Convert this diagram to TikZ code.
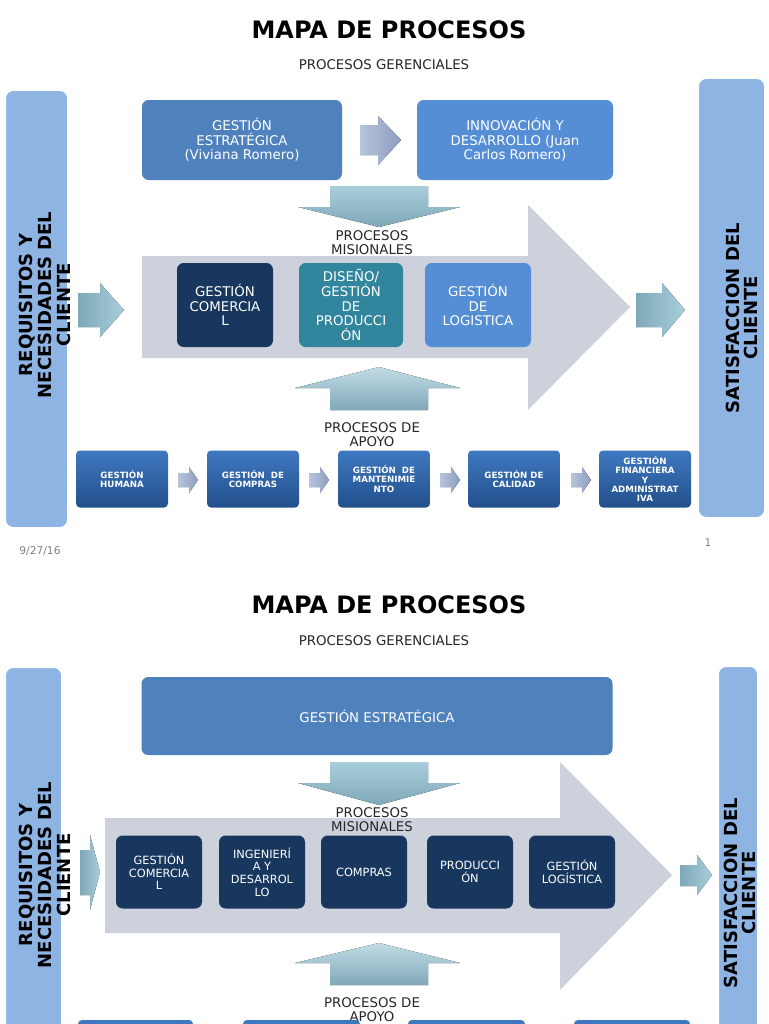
\documentclass[tikz,border=0pt]{standalone}
\usepackage{fontspec}
\setmainfont{DejaVu Sans}
\begin{document}
\begin{tikzpicture}[x=0.75pt,y=-0.75pt,
  bar/.style={fill=barc,draw=white,line width=1.5pt,rounded corners=6pt},
  bx/.style={draw=none,rounded corners=5pt,text=white,align=center,inner sep=0pt,font=\fontsize{10}{11}\selectfont},
  sb/.style={rounded corners=3pt,top color=sbt,bottom color=sbb,text=white,align=center,font=\bfseries\fontsize{6.5}{7}\selectfont},
  vt/.style={rotate=90,align=center,font=\bfseries\fontsize{13.5}{14}\selectfont},
  lab/.style={align=center,font=\fontsize{10}{10.5}\selectfont,text=black!85},
  garr/.style={top color=arrt,bottom color=arrb,draw=none},
  harr/.style={left color=arrb,right color=arrt,draw=none},
  sarr/.style={left color=sat,right color=sab,draw=none}]
\definecolor{barc}{HTML}{8EB4E3}
\definecolor{cge}{HTML}{4F81BD}
\definecolor{cid}{HTML}{558ED5}
\definecolor{dk}{HTML}{17375E}
\definecolor{tl}{HTML}{31859C}
\definecolor{big}{HTML}{CDD1DB}
\definecolor{arrt}{HTML}{A8CEDB}
\definecolor{arrb}{HTML}{7FA8B8}
\definecolor{sbt}{HTML}{3F78C0}
\definecolor{sbb}{HTML}{22508C}
\definecolor{sat}{HTML}{B7C4DC}
\definecolor{sab}{HTML}{8C9DC0}
\useasboundingbox (0,0) rectangle (768,1024);
\fill[white] (0,0) rectangle (768,1024);
% ===== slide 1 =====
\node (t1) at (389,30) {\bfseries\fontsize{18}{18}\selectfont MAPA DE PROCESOS};
\node (g1) at (384,65) [lab] {PROCESOS GERENCIALES};
\draw[bar] (5,90) rectangle (68,528);
\node (lt1) at (45,305) [vt] {REQUISITOS Y\\NECESIDADES DEL\\CLIENTE};
\draw[bar] (698,78) rectangle (765,518);
\node (rt1) at (742,318) [vt] {SATISFACCION DEL\\CLIENTE};
% big arrow
\fill[big] (142,256) -- (528,256) -- (528,205) -- (630,307) -- (528,410) -- (528,358) -- (142,358) -- cycle;
\node (ge1) [bx,fill=cge,minimum width=150pt,minimum height=60pt] at (242,140) {GESTIÓN\\ESTRATÉGICA\\(Viviana Romero)};
\node (id1) [bx,fill=cid,minimum width=147pt,minimum height=60pt] at (515,140) {INNOVACIÓN Y\\DESARROLLO (Juan\\Carlos Romero)};
\fill[sarr] (360,125) -- (378,125) -- (378,116) -- (401,140) -- (378,165) -- (378,155) -- (360,155) -- cycle;
\fill[garr] (330,186) -- (428,186) -- (428,207) -- (460,207) -- (379,227) -- (298,207) -- (330,207) -- cycle;
\node (pm1) at (372,243) [lab] {PROCESOS\\MISIONALES};
\node (gc1) [bx,fill=dk,minimum width=72pt,minimum height=63pt] at (225,305) {GESTIÓN\\COMERCIA\\L};
\node (dg1) [bx,fill=tl,minimum width=78pt,minimum height=63pt] at (351,305) {DISEÑO/\\GESTIÓN\\DE\\PRODUCCI\\ÓN};
\node (gl1) [bx,fill=cid,minimum width=79.5pt,minimum height=63pt] at (478,305) {GESTIÓN\\DE\\LOGISTICA};
\fill[harr] (78,293) -- (100,293) -- (100,283) -- (124,310) -- (100,337) -- (100,327) -- (78,327) -- cycle;
\fill[harr] (636,293) -- (662,293) -- (662,283) -- (685,310) -- (662,337) -- (662,327) -- (636,327) -- cycle;
\fill[garr,top color=arrt!70,bottom color=arrb] (379,367) -- (460,388) -- (428,388) -- (428,410) -- (330,410) -- (330,388) -- (295,388) -- cycle;
\node (pa1) at (372,435) [lab] {PROCESOS DE\\APOYO};
\foreach \x/\n/\t in {122/s1/{GESTIÓN\\HUMANA},253/s2/{GESTIÓN\ \ DE\\COMPRAS},384/s3/{GESTIÓN\ \ DE\\MANTENIMIE\\NTO},514/s4/{GESTIÓN DE\\CALIDAD},645/s5/{GESTIÓN\\FINANCIERA\\Y\\ADMINISTRAT\\IVA}}
  \node (\n) [sb,minimum width=69pt,minimum height=42.75pt,inner sep=0pt] at (\x,479) {\t};
\foreach \x in {178,309,440,571}
  \fill[sarr] (\x,473) -- (\x+11,473) -- (\x+11,467) -- (\x+20,480) -- (\x+11,493) -- (\x+11,487) -- (\x,487) -- cycle;
\node (d1) at (40,551) {\color{black!50}\fontsize{8}{8}\selectfont 9/27/16};
\node (n1) at (708,543) {\color{black!50}\fontsize{8}{8}\selectfont 1};
% ===== slide 2 =====
\node (t2) at (389,605) {\bfseries\fontsize{18}{18}\selectfont MAPA DE PROCESOS};
\node (g2) at (384,641) [lab] {PROCESOS GERENCIALES};
\draw[bar] (5,667) rectangle (62,1040);
\draw[bar] (718,666) rectangle (758,1040);
\fill[big] (105,818) -- (560,818) -- (560,762) -- (672,875) -- (560,990) -- (560,933) -- (105,933) -- cycle;
\node (lt2) at (45,875) [vt] {REQUISITOS Y\\NECESIDADES DEL\\CLIENTE};
\node (rt2) at (740,893) [vt] {SATISFACCION DEL\\CLIENTE};
\node (ge2) [bx,fill=cge,minimum width=353.25pt,minimum height=58.5pt] at (377,716) {GESTIÓN ESTRATÉGICA};
\fill[garr] (330,762) -- (428,762) -- (428,783) -- (460,783) -- (379,805) -- (298,783) -- (330,783) -- cycle;
\node (pm2) at (372,820) [lab] {PROCESOS\\MISIONALES};
\foreach \x/\n/\t in {159/c1/{GESTIÓN\\COMERCIA\\L},262/c2/{INGENIERÍ\\A Y\\DESARROL\\LO},364/c3/{COMPRAS},470/c4/{PRODUCCI\\ÓN},572/c5/{GESTIÓN\\LOGÍSTICA}}
  \node (\n) [bx,fill=dk,minimum width=64.5pt,minimum height=54.75pt,font=\fontsize{8.5}{9.5}\selectfont] at (\x,872) {\t};
\fill[harr] (80,850) -- (90,850) -- (90,835) -- (100,872) -- (90,910) -- (90,895) -- (80,895) -- cycle;
\fill[harr] (680,865) -- (697,865) -- (697,855) -- (712,875) -- (697,895) -- (697,886) -- (680,886) -- cycle;
\fill[garr,top color=arrt!70,bottom color=arrb] (379,943) -- (460,963) -- (428,963) -- (428,985) -- (330,985) -- (330,963) -- (295,963) -- cycle;
\node (pa2) at (372,1010) [lab] {PROCESOS DE\\APOYO};
\foreach \a/\b in {78/193,243/360,408/525,574/690}
  \fill[sbt,rounded corners=3pt] (\a,1020) rectangle (\b,1034);
\end{tikzpicture}
\end{document}
